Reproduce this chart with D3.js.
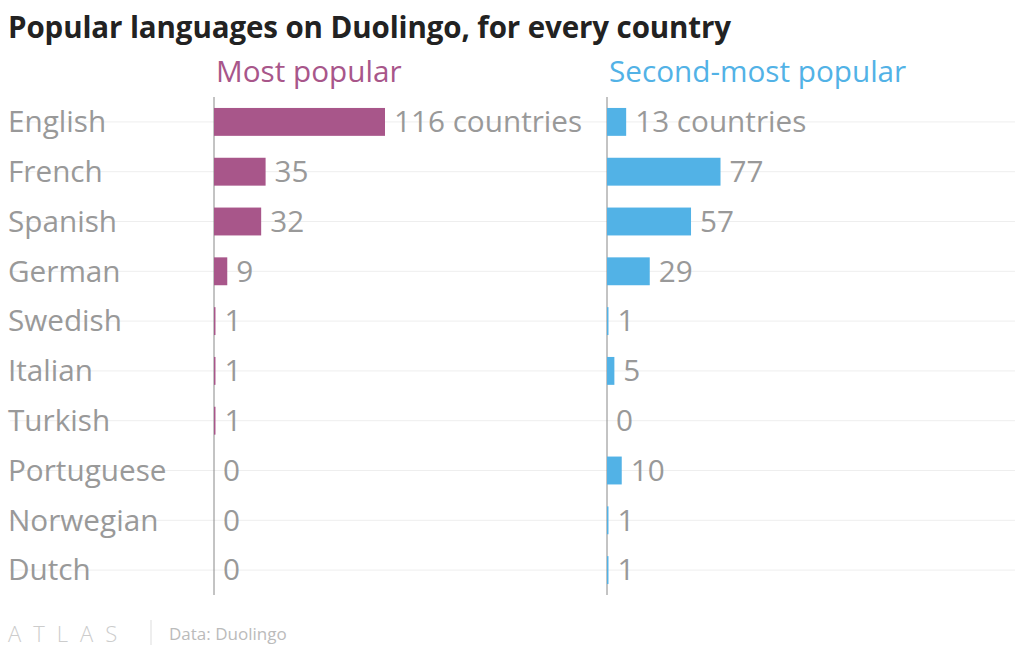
<!DOCTYPE html>
<html><head><meta charset="utf-8">
<script src="https://cdnjs.cloudflare.com/ajax/libs/d3/7.8.5/d3.min.js"></script>
<style>body{margin:0;background:#fff}text{font-family:"Open Sans",Roboto,sans-serif}</style>
</head><body><div id="chart"></div>
<script>
var languages = ["English","French","Spanish","German","Swedish","Italian","Turkish","Portuguese","Norwegian","Dutch"];
var mostPopular = [116,35,32,9,1,1,1,0,0,0];
var secondPopular = [13,77,57,29,1,5,0,10,1,1];

var width = 1024, height = 648;
var svg = d3.select("#chart").append("svg").attr("width", width).attr("height", height);

var y = d3.scaleBand().domain(languages).range([97, 595]).paddingInner(0.44).paddingOuter(0.22);
var x = d3.scaleLinear().domain([0, 116]).range([0, 171]);

svg.append("text").attr("x", 8).attr("y", 38).text("Popular languages on Duolingo, for every country")
  .style("font-size", "29.5px").style("font-weight", "bold").style("fill", "#222").style("letter-spacing", "-0.1px");

// gridlines
svg.selectAll("line.grid").data(languages).enter().append("line")
  .attr("x1", 10).attr("x2", 1015)
  .attr("y1", function(d){ return y(d) + y.bandwidth()/2; })
  .attr("y2", function(d){ return y(d) + y.bandwidth()/2; })
  .attr("stroke", "#eeeeee");

svg.selectAll("text.cat").data(languages).enter().append("text")
  .attr("x", 8).attr("y", function(d){ return y(d) + y.bandwidth()/2; })
  .attr("dy", "0.35em").text(function(d){ return d; })
  .style("font-size", "29.7px").style("fill", "#999");

var panel = function(data, x0, color, title, suffix){
  svg.append("text").attr("x", x0 + 2).attr("y", 82).text(title)
    .style("font-size", "29.7px").style("fill", color);
  svg.append("line").attr("x1", x0).attr("x2", x0).attr("y1", 97).attr("y2", 595).attr("stroke", "#888");
  svg.selectAll(null).data(data).enter().append("rect")
    .attr("x", x0).attr("y", function(d, i){ return y(languages[i]); })
    .attr("height", y.bandwidth()).attr("width", function(d){ return x(d); })
    .attr("fill", color);
  svg.selectAll(null).data(data).enter().append("text")
    .attr("x", function(d){ return x0 + x(d) + 9; })
    .attr("y", function(d, i){ return y(languages[i]) + y.bandwidth()/2; })
    .attr("dy", "0.35em")
    .text(function(d, i){ return i == 0 ? d + suffix : d; })
    .style("font-size", "29.7px").style("fill", "#999");
};
panel(mostPopular, 214, "#a8568a", "Most popular", " countries");
panel(secondPopular, 607, "#52b2e6", "Second-most popular", " countries");

svg.append("text").attr("x", 8).attr("y", 642).text("ATLAS")
  .style("font-size", "22px").style("fill", "#ccc").style("letter-spacing", "12px").style("font-weight", "300");
svg.append("line").attr("x1", 151).attr("x2", 151).attr("y1", 620).attr("y2", 645).attr("stroke", "#ddd");
svg.append("text").attr("x", 169).attr("y", 640).text("Data: Duolingo")
  .style("font-size", "17px").style("fill", "#bbb");
</script></body></html>
